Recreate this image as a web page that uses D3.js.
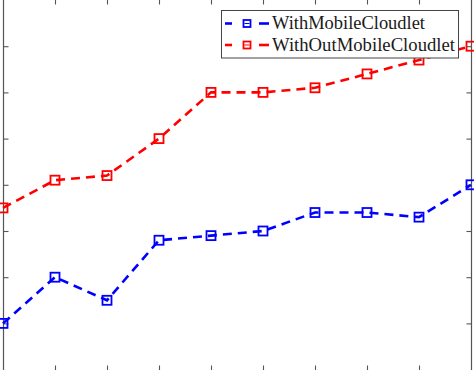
<!DOCTYPE html>
<html>
<head>
<meta charset="utf-8">
<script src="https://cdn.jsdelivr.net/npm/d3@7"></script>
<style>
  body { margin: 0; background: #fff; }
  svg { display: block; }
</style>
</head>
<body>
<svg id="chart" width="474" height="370"></svg>
<script>
// data (tick labels are cropped away in the source)
var xValues = [1, 2, 3, 4, 5, 6, 7, 8, 9, 10]
var withCloudlet = [1.0, 2.0, 1.5, 2.8, 2.9, 3.0, 3.4, 3.4, 3.3, 4.0]
var withoutCloudlet = [3.5, 4.1, 4.2, 5.0, 6.0, 6.0, 6.1, 6.4, 6.7, 7.0]
var seriesNames = ['WithMobileCloudlet', 'WithOutMobileCloudlet']
var seriesColors = ['#0000ff', '#ff0000']
var yTicks = [1, 2, 3, 4, 5, 6, 7]

var svg = d3.select('#chart')

// plot box runs slightly past the visible frame
var x = d3.scaleLinear().domain([1, 10]).range([3, 471])
var y = d3.scaleLinear().domain([0, 8]).range([369.6, 0])

var axisColor = '#555'

// box edges
svg.append('line').attr('x1', 3.5).attr('x2', 3.5).attr('y1', -5).attr('y2', 375)
    .attr('stroke', axisColor).attr('stroke-width', 1.2)
svg.append('line').attr('x1', 471.5).attr('x2', 471.5).attr('y1', -5).attr('y2', 375)
    .attr('stroke', axisColor).attr('stroke-width', 1.2)

// y ticks on both sides, pointing inward
var yAxisL = d3.axisRight(y).tickValues(yTicks).tickSize(5).tickFormat('')
var yAxisR = d3.axisLeft(y).tickValues(yTicks).tickSize(5).tickFormat('')
svg.append('g').attr('transform', 'translate(3.5,0)').call(yAxisL)
svg.append('g').attr('transform', 'translate(471.5,0)').call(yAxisR)

// x ticks top and bottom, pointing inward
var xInner = xValues.slice(1, -1)
var xAxisTop = d3.axisBottom(x).tickValues(xInner).tickSize(5).tickFormat('')
var xAxisBot = d3.axisTop(x).tickValues(xInner).tickSize(6).tickFormat('')
svg.append('g').attr('transform', 'translate(0,-0.5)').call(xAxisTop)
svg.append('g').attr('transform', 'translate(0,371.5)').call(xAxisBot)

svg.selectAll('.domain').remove()
svg.selectAll('.tick line').attr('stroke', axisColor).attr('stroke-width', 1.1)

var line = d3.line()
    .x(function (d, i) { return x(xValues[i]) })
    .y(function (d) { return y(d) })

var series = [withCloudlet, withoutCloudlet]

series.forEach(function (vals, k) {
    var g = svg.append('g')
    g.append('path')
        .datum(vals)
        .attr('d', line)
        .attr('fill', 'none')
        .attr('stroke', seriesColors[k])
        .attr('stroke-width', 2.6)
        .attr('stroke-dasharray', '9,6')
    g.selectAll('rect')
        .data(vals)
        .enter().append('rect')
        .attr('x', function (d, i) { return x(xValues[i]) - 4.5 })
        .attr('y', function (d) { return y(d) - 4.5 })
        .attr('width', 9)
        .attr('height', 9)
        .attr('fill', 'none')
        .attr('stroke', seriesColors[k])
        .attr('stroke-width', 1.8)
})

// legend
var legend = svg.append('g')
legend.append('rect')
    .attr('x', 221.5).attr('y', 10.5)
    .attr('width', 237).attr('height', 47.5)
    .attr('fill', '#fff')
    .attr('stroke', '#444')
    .attr('stroke-width', 1)

var textWidths = [153, 183]
seriesNames.forEach(function (name, k) {
    var cy = 23.5 + k * 21.5
    // dash, marker, dash
    ;[[225, 232], [259, 269]].forEach(function (seg) {
        legend.append('line')
            .attr('x1', seg[0]).attr('x2', seg[1])
            .attr('y1', cy).attr('y2', cy)
            .attr('stroke', seriesColors[k])
            .attr('stroke-width', 2.6)
    })
    legend.append('rect')
        .attr('x', 243.5).attr('y', cy - 3.5)
        .attr('width', 7).attr('height', 7)
        .attr('fill', 'none')
        .attr('stroke', seriesColors[k])
        .attr('stroke-width', 1.8)
    legend.append('line')
        .attr('x1', 244.5).attr('x2', 249.5)
        .attr('y1', cy).attr('y2', cy)
        .attr('stroke', seriesColors[k])
        .attr('stroke-width', 1)
    legend.append('text')
        .attr('x', 272)
        .attr('y', cy + 5.5)
        .attr('font-family', '"Liberation Serif", "DejaVu Serif", serif')
        .attr('font-size', 18)
        .attr('fill', '#1a1a1a')
        .attr('textLength', textWidths[k])
        .attr('lengthAdjust', 'spacingAndGlyphs')
        .text(name)
})
</script>
</body>
</html>
